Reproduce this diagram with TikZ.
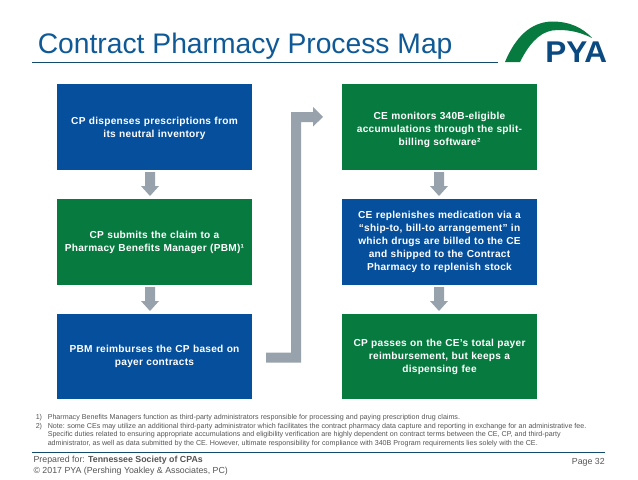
\documentclass[tikz,border=0pt]{standalone}
\usepackage{fontspec}
\setmainfont{Liberation Sans}
\newfontfamily\boxfont[LetterSpace=2.5]{Liberation Sans}
\newfontfamily\logofont[FakeStretch=1.05]{Liberation Sans}
\definecolor{pyablue}{HTML}{054F9C}
\definecolor{pyagreen}{HTML}{077A3F}
\definecolor{pyagrey}{HTML}{98A2AC}
\definecolor{titleblue}{HTML}{0F5A96}
\definecolor{logoblue}{HTML}{0B4A80}
\definecolor{rulecol}{HTML}{134B6E}
\definecolor{notecol}{HTML}{555555}
\tikzset{
  x=0.75pt,y=-0.75pt,
  flowbox/.style={minimum width=146pt,minimum height=64pt,inner sep=0pt,text=white,align=center,font=\boxfont\bfseries\fontsize{7.6}{9.75}\selectfont,text width=146pt},
  bluebox/.style={flowbox,fill=pyablue},
  greenbox/.style={flowbox,fill=pyagreen},
  note/.style={anchor=base west,inner sep=0pt,text=notecol,font=\fontsize{5.35}{6}\selectfont},
  foot/.style={anchor=base west,inner sep=0pt,text=notecol,font=\fontsize{6.6}{7}\selectfont},
}
\newcommand{\downarr}[2]{\fill[pyagrey] (#1-5,#2) -- (#1+5,#2) -- (#1+5,#2+14) -- (#1+9,#2+14) -- (#1,#2+24) -- (#1-9,#2+14) -- (#1-5,#2+14) -- cycle;}
\begin{document}
\begin{tikzpicture}
\useasboundingbox (0,0) rectangle (638,479);
\fill[white] (0,0) rectangle (638,479);
\node[anchor=base west,inner sep=0pt,text=titleblue,font=\fontsize{21.2}{24}\selectfont] (title) at (37.5,53.5) {Contract Pharmacy Process Map};
\coordinate (ra) at (32,62.3); \coordinate (rb) at (498,62.3);
\draw[rulecol,line width=0.6pt] (ra) -- (rb);
% logo
\fill[pyagreen] (505,62) .. controls (515,38) and (530,22) .. (552,21.5) .. controls (570,21.5) and (583,28) .. (592,38) .. controls (578,31) and (565,29) .. (552,30.5) .. controls (538,33) and (528,46) .. (520,62) -- cycle;
\node[anchor=base west,inner sep=0pt,text=logoblue,font=\logofont\bfseries\fontsize{22.5}{26}\selectfont] (logo) at (545,62) {PYA};
% boxes
\node[bluebox] (a1) at (154.5,127) {\rule{0pt}{7.5pt}CP dispenses prescriptions from\\its neutral inventory};
\node[greenbox] (a2) at (154.5,242) {CP submits the claim to a\\Pharmacy Benefits Manager (PBM)¹};
\node[bluebox] (a3) at (154.5,356.5) {PBM reimburses the CP based on\\payer contracts};
\node[greenbox] (b1) at (439.5,127) {\rule{0pt}{10pt}CE monitors 340B-eligible\\accumulations through the split-\\billing software²};
\node[bluebox] (b2) at (439.5,242) {CE replenishes medication via a\\“ship-to, bill-to arrangement” in\\which drugs are billed to the CE\\and shipped to the Contract\\Pharmacy to replenish stock};
\node[greenbox] (b3) at (439.5,356.5) {CP passes on the CE’s total payer\\reimbursement, but keeps a\\dispensing fee};
% arrows
\downarr{150}{172}
\downarr{150}{287}
\downarr{439}{172}
\downarr{439}{287}
\fill[pyagrey] (266,352.7) -- (291,352.7) -- (291,112) -- (313,112) -- (313,107) -- (323,117) -- (313,126.5) -- (313,122) -- (301,122) -- (301,362.7) -- (266,362.7) -- cycle;
% notes
\node[note] (n1) at (35.5,419) {1)};
\node[note] (n1t) at (47.5,419) {Pharmacy Benefits Managers function as third-party administrators responsible for processing and paying prescription drug claims.};
\node[note] (n2) at (35.5,428.3) {2)};
\node[note] (n2t) at (47.5,428.3) {Note: some CEs may utilize an additional third-party administrator which facilitates the contract pharmacy data capture and reporting in exchange for an administrative fee.};
\node[note] (n3) at (47.5,436.8) {Specific duties related to ensuring appropriate accumulations and eligibility verification are highly dependent on contract terms between the CE, CP, and third-party};
\node[note] (n4) at (47.5,445.8) {administrator, as well as data submitted by the CE. However, ultimate responsibility for compliance with 340B Program requirements lies solely with the CE.};
\coordinate (fa) at (32,452.3); \coordinate (fb) at (605,452.3);
\draw[rulecol,line width=0.6pt] (fa) -- (fb);
\node[foot] (p) at (33.3,462) {Prepared for: \textbf{Tennessee Society of CPAs}};
\node[foot] (c) at (33.3,473) {© 2017 PYA (Pershing Yoakley \& Associates, PC)};
\node[foot,anchor=base east] (pg) at (605,464) {Page 32};
\end{tikzpicture}
\end{document}
